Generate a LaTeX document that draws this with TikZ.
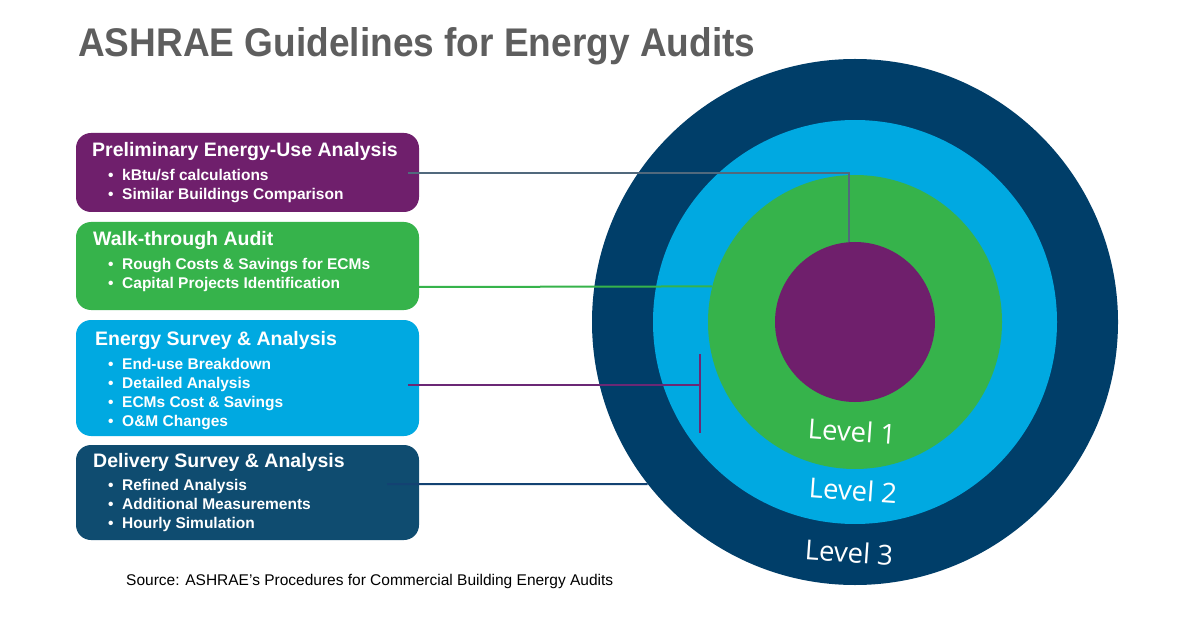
\documentclass[tikz,border=0pt]{standalone}
\usepackage{fontspec}
\setmainfont{Liberation Sans}
\newfontfamily\levelfont{Open Sans}
\usepackage{tikz}
\usetikzlibrary{arrows,calc,positioning,shapes}
\definecolor{titlegray}{HTML}{5E5E5E}
\definecolor{auditpurple}{HTML}{6F1F6C}
\definecolor{auditgreen}{HTML}{36B34B}
\definecolor{auditblue}{HTML}{00A9E1}
\definecolor{auditnavy}{HTML}{003E69}
\definecolor{boxnavy}{HTML}{0F4C70}
\definecolor{linegray}{HTML}{51697D}
\definecolor{linepurple}{HTML}{6B2875}
\definecolor{linenavy}{HTML}{134272}
\newcommand{\itm}[1]{\makebox[14pt][l]{\textbullet}#1}

\begin{document}
\begin{tikzpicture}[x=1pt,y=-1pt]
        \tikzstyle{audit}=[rounded corners=15pt,minimum width=343pt,%
          inner sep=0pt,draw=none]
        \tikzstyle{head}=[anchor=base west,inner sep=0pt,text=white,%
          font=\fontsize{19.5}{23}\selectfont\bfseries]
        \tikzstyle{items}=[anchor=base west,inner sep=0pt,text=white,%
          align=left,font=\fontsize{15.5}{19}\selectfont\bfseries]
        \tikzstyle{ring}=[circle,inner sep=0pt,draw=none]
        \tikzstyle{level}=[text=white,rotate=-4,%
          font=\levelfont\fontsize{27.5}{31}\selectfont]
        \tikzstyle{link}=[line width=2pt]

      \useasboundingbox[fill=white] (0,0) rectangle (1183,628);

      \node[anchor=base west,inner sep=0pt,text=titlegray,%
        font=\fontsize{40}{44}\selectfont\bfseries] (T) at (78,57)
        {\scalebox{0.926}[1]{ASHRAE Guidelines for Energy Audits}};

      \node[ring,fill=auditnavy,minimum size=526pt] (L3) at (855,322) {};
      \node[ring,fill=auditblue,minimum size=404pt] (L2) at (855,322) {};
      \node[ring,fill=auditgreen,minimum size=294pt] (L1) at (855,322) {};
      \node[ring,fill=auditpurple,minimum size=160pt] (L0) at (855,322) {};

      \node[level] (V1) at (852,431) {Level 1};
      \node[level] (V2) at (853,490) {Level 2};
      \node[level] (V3) at (849,552) {Level 3};

      \node[audit,fill=auditpurple,minimum height=79pt] (P) at (247.5,172.5) {};
      \node[audit,fill=auditgreen,minimum height=88pt] (W) at (247.5,266) {};
      \node[audit,fill=auditblue,minimum height=116pt] (E) at (247.5,378) {};
      \node[audit,fill=boxnavy,minimum height=95pt] (D) at (247.5,492.5) {};

      \node[head] (Ph) at (92,157) {Preliminary Energy-Use Analysis};
      \node[items] (Pi) at (108,200) {\itm{kBtu/sf calculations}\\
        \itm{Similar Buildings Comparison}};
      \node[head] (Wh) at (93,246) {Walk-through Audit};
      \node[items] (Wi) at (108,289) {\itm{Rough Costs \& Savings for ECMs}\\
        \itm{Capital Projects Identification}};
      \node[head] (Eh) at (95,345) {Energy Survey \& Analysis};
      \node[items] (Ei) at (108,426) {\itm{End-use Breakdown}\\
        \itm{Detailed Analysis}\\ \itm{ECMs Cost \& Savings}\\
        \itm{O\&M Changes}};
      \node[head] (Dh) at (93,467) {Delivery Survey \& Analysis};
      \node[items] (Di) at (108,528) {\itm{Refined Analysis}\\
        \itm{Additional Measurements}\\ \itm{Hourly Simulation}};

      \coordinate (p1) at (408,173);
      \coordinate (w1) at (419,287);
      \coordinate (e1) at (408,385);
      \coordinate (e2) at (700,385);
      \coordinate (d1) at (387,484);

      \draw [link,linegray] (p1) -| ([xshift=-6pt]L0.north);
      \path [-,link,auditgreen] (w1) edge (L1.166);
      \path [-,link,linepurple] (e1) edge (e2);
      \draw [link,linepurple] ($(e2)+(0,-31)$) -- ($(e2)+(0,48)$);
      \path [-,link,linenavy] (d1) edge (L3.218);

      \node[anchor=base west,inner sep=0pt,font=\fontsize{15.5}{18}\selectfont]
        (S) at (126,585)
        {Source: ASHRAE’s Procedures for Commercial Building Energy Audits};
    \end{tikzpicture}
\end{document}
